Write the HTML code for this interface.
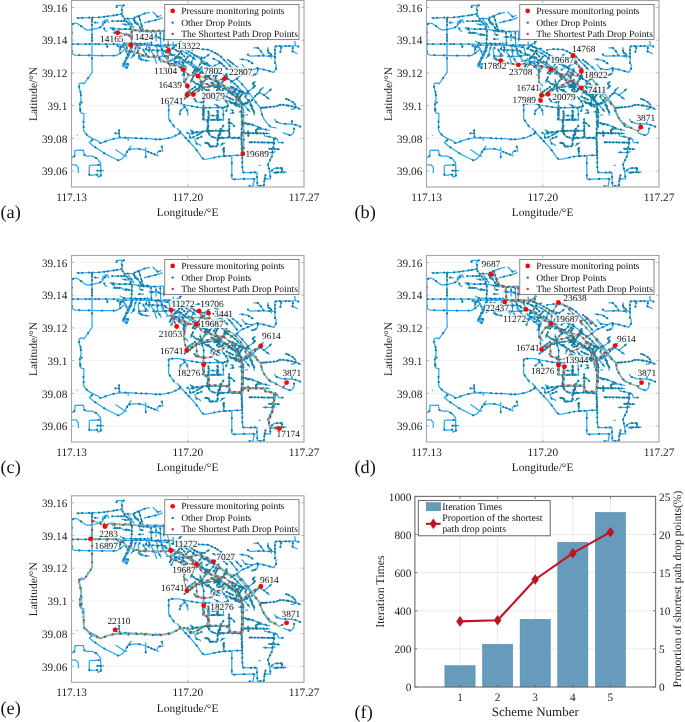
<!DOCTYPE html><html><head><meta charset="utf-8"><title>Figure</title><style>html,body{margin:0;padding:0;background:#fff}svg{display:block}</style></head><body><svg width="685" height="722" viewBox="0 0 685 722" text-rendering="geometricPrecision"><rect width="685" height="722" fill="#fff"/><defs><g id="net" fill="none" stroke-linejoin="round"><path d="M76.4 17.5 78.2 18.1 82.8 17.8 92.2 17.5 99.2 17.3 105 16.7 110.9 15.8 121.4 14.2M121.4 14.2 122.6 11.7 121.4 8.8 122 6.8 124 5.3 116.5 5.3 116.7 7.6M92 17.5 92 64M71.8 25.1 72.9 23.9 75.3 23 77.6 23.7 81.7 26.6 85.2 29.2 87.5 30.1 93.4 29.2 99.2 27.8 102.1 26.3 103.9 23.4 105.6 21.6 107.4 20.8 109.1 22.8M102.1 25.1 102.7 22.2 105 20.1 108.5 19.9M112 21 124.9 21M93.9 22.4 98.6 22.8M103.9 27.4 105 30.6 107.4 31.3M109.7 27.8 114.4 30.1 115 31.8M112.6 32.9 122 32.9M121.4 29 130.7 29.2M124.9 33.9 130.7 35.3M71.8 25.1 71.8 51.4 72.6 53.7 74.7 55.1 99.2 55.6 116.1 55.6 120.2 53.1 124.9 49.6M71.8 44.1 120.2 44.1M106.4 43.2 107.6 46.1 106.8 47.9M121.4 14.2 123.7 17.5 126.1 21 128.4 23.4 130.7 26.9 131.9 30.4M124.9 18.7 133.1 18.5 138.9 15.8 144.7 13.4 150 12.3M128.4 19.9 130.7 23.4 134.2 28M138.9 15.8 140.1 19.9 143 30.4M131.9 30.4 131.9 39.7M140.1 30.4 150 30.6M139.5 34.5 143 34.5M138.9 39.1 142.4 39.1M120.2 44.1 120.2 46.7 124.3 47.9 126.1 50.2M120.2 40.9 123.7 43.2 150 43.8M130.7 46.7 129.6 51.4 126.1 58.4 123.7 64M135.4 53.7 130.7 58.4M138.9 46.7 140.1 49.1M137.7 58.4 144.7 60.1M147.1 45.5 145.9 49.1 150 52.6M133.1 18.7 135.4 23.4 137.7 25.1M121.4 23.9 128.4 25.1M247.5 54.3 249.9 56.1 256.9 55.8 263.9 55.8 270.9 56.1 275 55.8M253.4 47.9 258 47.9 261.5 52 263.9 55.8M268 47.3 268 52.6 270.9 53.7 271.5 58.4M275 64 275 46.7 276.7 46.1 290.7 46.1 295.4 45.5 298.9 46.7M280.2 52.6 281.4 46.7M293.1 46.1 292.5 51.4 297.7 53.7M294.8 40.9 295.4 46.1M239.3 59 247.5 60.1 253.4 64M92 64 92.2 72.2 88.1 78 84 83.9 82.3 82.9 79.3 83.6 78.8 86.8 80.5 92 81.1 99 79.9 103.7 79.9 110.1 81.1 113.1 84 113.6 83.4 128M122 65.8 124.9 64 128.4 65.2 126.6 68.1 122 65.8M175.1 128 168.7 118.9 168.7 104.3 170.4 103.7 179.2 103.7 183.9 104.9 190.9 106 196.7 107.2 203.7 107.8 223 107.4 223.6 120.1 208.4 119.8 208.4 128M208.4 110.7 208.4 119.8M203.7 107.8 203.7 120.1M209.6 115.4 217.7 116 218.3 110.7M217.7 110.7 218.3 118.9M179.8 114.2 180.4 110.7 185 106.6 187.4 110.7 188 115.4M235.8 78 241.7 83.9 248.7 92 253.4 99 256.9 103.7 260.4 107.8 261.5 113.1 263.9 118.9 267.4 123.6 270.9 127.1 276.7 128M260.4 107.8 268.5 107.2 276.7 106.3 279.1 104.9 283.7 104.9 290.7 106 295.4 107.2 301.2 109.5M284.9 98.5 288.4 99.6 293.6 102.5 296 106 293.6 109 290.7 109M241.7 104.3 246.4 103.7 251 101.4 255.7 95.5 259.2 92.6 260.9 89.1 263.9 87.4M259.2 92.6 263.9 94.9 269.7 99.6M265 94.4 267.4 92.6 272 88.5M252.2 83.9 255.1 81.5 252.8 84.4 255.1 86.2 251.6 89.1 246.4 92.6 245.2 97.3 249.3 101.4 251 103.7 253.4 110.7 254.5 115.4M241.7 64 245.2 68.7 252.2 69.8 257.4 68.1 265 69.8 273.8 72.4 276.1 68.7 276.1 64M251 75.7 256.9 73.9 258 68.7M230 82.7 237 78.6 241.7 74.5 251 71M230 86.2 234.7 90.9 238.2 96.7 241.7 104.3 243.4 110.7 243.1 122.4 243.1 128M274.4 118.9 276.1 121.8 281.4 123.6 290.7 124.1 295.4 124.7 301.2 127.1M291.9 120.1 291.9 124.1M242.8 122.4 248.7 124.7 253.4 124.1M238.2 111.9 242.8 111.9M245.2 114.8 248.1 114.8M230 102.5 235.8 104.9 241.7 104.3M83.4 128 84 131.5 87.5 135.6 93.4 139.1 89.3 142.6 93.4 146.1 103.9 153.1 112 157.2 118.5 160.5 122 158.9 124.9 155.4 128.4 149.6 131.3 145.5M93.4 139.1 97.4 140.6 100.6 143.4 107.4 140.6 115 138.5 120.2 137.9 128.4 137.6 137.7 138.3 150 138.7M115 133.3 119.1 133.6 119.1 130.3 119.6 137.9M127.8 137.9 128.4 140.8M115.5 149.6 124.9 156 127.2 156M128.4 149.6 133.1 148.8 138.9 148.8 144.7 150.2 150 152.5M145.7 147.3 145.7 158.4M71.8 157.8 74.7 156 74.9 150.4 83.4 150.2 84.2 154.9 86.4 156 92.2 156 96.9 158.4 100.4 162.5 100.9 166.5M71.8 164.8 75.8 164.8 78.2 167.1 78.4 173M89.3 165.4 100.6 164.8 100.9 175.9 98 177.1 97.4 174.7 89.3 175.3 89.3 165.4M96.3 170.6 103.9 170.6M76.8 135.5 77.7 135M150 138.7 155.8 139.4 161.7 139.4 171 137.6 176.9 135 180.9 132.7M176.9 128 180.9 132.7 187.4 139.7 194.4 147.3 197.9 151.9 201.4 157.2 204.3 159.5 209.6 158.6 216.6 157 223.6 156 230 155.8M150 152.5 157 155.4 158.8 156M157 154.3 158.2 151.4 162.8 150.8 161.7 146.1M186.8 132.7 189.1 133.3 190.3 138.5 194.4 136.8 200.2 133.3 204.9 130.9 208.4 130.9 230 130.9M190.3 129.8 193.8 134.4M194.4 139.7 202 136.4M195 140.3 196.7 143.8 199.6 144.4 200.8 146.1M207.8 128 207.8 131.5 210.7 136.2 215.4 137.9 220.1 138.5 230 137.3M206.1 143.2 209 143.2 209.6 146.5 215.4 146.5 217.7 146.1 217.5 139.7 220.1 135 220.7 128M220.1 146.1 223 143.2 225.3 143.2M223.3 147.9 223.6 155.4M241.7 128 241.7 138.5 242.3 151.4 242.3 165.4 242.8 172.4 249.9 172.6 256.9 172.4 257.1 179.4 257.4 185.8 263.9 185.8 264.5 179.4 265.6 174.7M241.7 133.3 248.7 133.3 255.7 133.3 263.9 133.3 265 136.2 270.3 136.8 273.8 137.9 274.1 143.2 272.6 151.4 272 156 269.7 160.7 268 164.2 269.7 172.4 270.6 178.8 265 178.8M273.8 137.9 277.3 139.1 278.5 142.6 283.1 142.6M248.7 142.2 274.4 142.6M269.1 148.8 280.2 149.3M262.7 152.3 273.8 152.5 275.5 151.4M269.7 172.4 274.4 168.3 282.6 167.9 281.4 172.1 273.2 172.6 286.6 172.1M230 156 233.5 155.4 241.7 155.1M231.8 156 231.8 178.2 232.9 179.4 245.2 178.8 255.1 178.8 253.4 182.9 253.4 185.8 248.7 186.2M255.7 133.3 256.3 129.2 265 129.2M282.6 132.7 290.7 135.6 293.6 132.7 294.2 128M258.6 165.1 260.6 165.6M230 137.9 241.7 138.3M248.1 130.3 248.5 136.8M202.8 106.6 203.1 120 222.7 119.4M208.7 111.9 208.7 120M217.4 110.7 217.1 119.4M207.5 120 207.5 130.5 209.3 135.2 213.4 137.5M190 134 197 132.3 204 131.1 219.2 130.5 229.1 130.5M229.1 118.9 229.5 137.5M218 137.5 229.1 137.3 241.4 137.8M241.4 109.5 242 122.4 241.4 138.7 242 156M234.4 94.3 236.7 99 236.1 106 240.2 106.6 244.9 103.7 249.6 100.2M229.7 102.5 232 103.7M230.3 109.5 233.2 110.7M229.7 113.6 234.4 112.4M228.5 122.9 232 123.5 234.4 126.5M241.4 122.4 248.4 123.5 255.4 125.9 262.4 128.8 270 130.5M243.1 132.9 270 133.5M249.6 102.5 251.9 108.4 254.2 111.9 254 115.4M205.2 142.8 208.7 143.4 209.3 146.3 216.9 146.3M223.9 146.9 223.9 156M223.9 124.7 220.4 130.5 218 136.4 217.4 144.6 216.9 146.9M190 129.4 193.5 132.3 197 132.3M241.4 103.7 242 109.5M247.8 130.5 248.4 137M256 129.4 256 134.6M133.4 19.3 136.9 22.8 139.2 26.4 141.5 29.9 143.9 31.6M152.6 11.8 157.9 17 161.4 15.3M143.9 22.8 150.9 21.1 156.7 19.9 162.6 17.6M110 27.5 114.7 28.7 121.7 29.3 130.4 28.9M130.4 28.9 143.9 31.6 150.9 31.6 163.7 31M131.6 29.9 131.6 43.9 131 48.5M150.9 31.6 151.5 45M160.2 31.6 160.8 45M163.7 31 163.7 41.5M156.1 31.6 156.1 41.5M139.8 31.6 139.8 34.5 143.9 35.1M121.7 45 145 45 168.4 45 176.6 45M138 39.2 143.9 39.2M121.7 43.9 125.2 48.5 127.5 54.4 126.4 60.2 122.8 63.7 127.5 67.2 128.7 64.3 124.6 62.6M133.4 43.9 131 50.9 127.5 59.1M136.9 43.9 133.4 54.4 132.2 56.7M138 48.5 139.2 56.7 141.5 60.2 149.7 60.8M139.2 56.1 148.5 56.1M147.4 42.1 149.7 48.5 154.4 56.7 156.7 63.7M149.7 45 159.1 46.2 168.4 47.4M156.7 45 157.9 56.7 161.4 62.6M160.2 45 164.9 56.7 168.4 61.4M168.4 45 170.7 55M173.1 41.5 173.6 48.5M180.1 40.9 179.8 45M142.7 48.5 145 53.2 148.5 56.1M121.7 33.4 125.2 35.1 128.7 34.5M117 45 120.5 48.5 119.3 52M148.5 36.9 159.1 37.4M145 49.7 159.1 50.3 166.1 50.9M152 56.7 166.1 56.1 175.4 54.4M161.4 47.4 162.6 56.1M173.1 48.5 180.1 52 184.7 56.7M175.4 45 182.4 48.5 187.1 48.5M166.1 61.4 173.1 60.2 180.1 56.7M170.7 64.9 177.7 61.4 183.6 62.6M165 52 180 58 195 68 210 78 225 88 240 100 250 112M176 46 190 52 205 62 220 72 235 84 247 96M192 50 199 49 208.5 49.6 216.7 53.7 221.4 57 226 62 230.7 66.5 238 76M183.9 99 189.7 95 196.7 89 202.5 85M185 94.4 188.5 91.4 196 86.2M194.4 99 196.7 102 202.5 102.5M196.7 89.7 205 87.4 213 86.2 220 82.7M200 79 201.4 87.4 203.7 94.4 203.5 107.8M208.4 89.7 212 94.4 210.7 99M216.6 92 221.2 91.4M215 99 220 100.5M184 66 184 82 188 86M172 58 178 66 186 72M224 88 232 95 240 94M226 100 236 104M198.4 69.8 203.5 73 208.4 77.1M202.8 72.1 205.8 74 208.7 74.9M215.4 80.3 217.3 81.8 220.4 84.1M214.8 79.6 216.2 76 218.3 72.9M213.4 88.1 216.6 86.1 218.9 83.5M222.4 91.8 222.9 89.1 224.6 87M240.3 90.6 241.9 93.1 243.7 94.3M199.5 74.5 201 71 202.9 68.9M214.5 96 218.1 96.9 220.9 98.8M181.1 66.8 184.5 61.3 188.2 56.1M172.2 49.2 176.4 44.6 182 40.9M203.9 88.9 209.9 91.8 215.2 95.2M190.5 83.1 191.6 80.2 193 76.9M234.6 104.1 236.2 100.4 238.9 95.6M181.7 75.8 184.8 71.5 186.6 66.1M169 68 170.8 65.3 171.8 62.9M226.4 88.5 228.6 90.5 231.9 93.4M216 80.1 218.2 81.6 219.7 84.2M193.1 81.2 195.1 83 198.1 85.2M238.4 102.2 240.1 96.7 243 92.7M224.7 79.6 226.5 77.2 227.7 75.4M173.8 59.2 177.8 55.6 181.2 51.2M195 71 198.8 66.5 201.7 60.9M171.4 48.2 174.5 49.3 178.7 51.4M232.4 94.2 234.8 91.5 237.4 87.8M203.8 76.2 207.9 77.1 210.7 79M210.9 82.5 216.6 85.1 221.9 87.8M211.2 82.1 215.3 85.9 220.4 90M225.5 95.9 229.9 98.5 234.3 100.1M223.7 76.2 226.4 77.8 229.7 80.3M194.3 74.4 198.2 70.5 201.7 67.2M187.8 61.2 192.4 64 196.6 66.6M179.1 62.3 179.8 59.4 181.5 57.7M171.4 69.9 173.2 65.6 176.3 62.1M190.1 65.7 191.9 61 194.4 55.6M216.8 90.4 219.9 86.8 222.1 82.1M201.8 62.8 205.9 63.9 209 66.5M212.7 77.3 216.2 72.3 219.2 68M229.6 86 234.8 88.4 240.4 91.9M209.8 75.5 212.3 72.3 215.2 70.3M192.2 74 194.3 70.7 195.5 67.6M176 61.8 181.1 64.6 186.1 66.7M223.3 81.3 224.7 77.3 226.9 73.2M226.8 94.1 228.8 92.2 231.5 89.9M206.5 79.4 208.6 76 210.4 74M202 84.4 205.6 79.2 208.7 75.1M204.1 63.7 209.1 66.2 214.1 69.2M198.1 84.1 202 86.8 205.4 88.2M232 96 240 92 250 94M222 96 228 104 226 112M214 104 222 108 228 106M206 70 214 66 222 62M212 58 220 62 228 70M228 60 236 66 242 72M196 56 204 58 210 54M180 50 188 54 196 60" stroke="#2aa6fa" stroke-width="1.25"/><path d="M78.3 18.1h0M82.2 17.8h0M89.2 17.6h0M92.7 17.5h0M99 17.3h0M104.2 16.8h0M107.6 16.3h0M113.6 15.4h0M116.9 14.9h0M121.6 13.8h0M121.9 10.2h0M123.8 5.3h0M116.6 6.9h0M73.1 23.9h0M81.1 26.2h0M91.6 29.5h0M100.1 27.3h0M105 22.3h0M112.2 21h0M117.9 21h0M121.3 21h0M124 21h0M95.2 22.5h0M104.3 28.6h0M112.8 29.3h0M114.9 32.9h0M117.3 32.9h0M119.6 32.9h0M125.1 29.1h0M130.1 29.2h0M126.5 34.3h0M129.1 34.9h0M71.8 32.6h0M71.8 43.9h0M71.8 51h0M79.4 55.2h0M89.1 55.4h0M102.1 55.6h0M113.7 55.6h0M120.4 53h0M72.5 44.1h0M78 44.1h0M85.7 44.1h0M89.6 44.1h0M95.7 44.1h0M98.9 44.1h0M106 44.1h0M113.7 44.1h0M107.4 46.6h0M122.6 16h0M124.6 18.8h0M126.5 21.5h0M128.5 23.6h0M130.8 27h0M127.8 18.6h0M134.7 17.7h0M137.8 16.3h0M144.5 13.5h0M131.4 24.2h0M139.2 16.8h0M140.1 20h0M141.3 24.3h0M141.8 26.2h0M142.8 29.7h0M131.9 31.3h0M131.9 35.8h0M141.1 30.4h0M147.2 30.5h0M139.4 39.1h0M121 46.9h0M123.9 43.2h0M131.1 43.4h0M135.3 43.5h0M140.1 43.6h0M144.7 43.7h0M129.4 51.6h0M127.9 54.7h0M126.3 58h0M124.8 61.5h0M133.6 55.5h0M139.6 48.1h0M141 59.2h0M146 48.8h0M134.9 22.4h0M125.1 24.6h0M247.9 54.6h0M258.7 55.8h0M269.1 56h0M257.7 47.9h0M260.9 51.3h0M263.6 55.3h0M268 50.7h0M269.1 53h0M271 54.8h0M275 62.9h0M275 57.2h0M275 53.5h0M275 50.1h0M275.9 46.4h0M279.9 46.1h0M285.7 46.1h0M289.3 46.1h0M298.4 46.5h0M280.4 51.8h0M281.2 47.8h0M292.8 48.1h0M292.5 51.4h0M242.5 59.4h0M248.8 61h0M252.1 63.2h0M173.5 125.7h0M169.9 120.7h0M168.7 110.3h0M168.7 104.9h0M172.2 103.7h0M183.8 104.9h0M192 106.3h0M197.1 107.2h0M205.6 107.8h0M209.8 107.7h0M218.2 107.5h0M223.3 114.6h0M218 120h0M208.4 119.9h0M208.4 126.1h0M208.4 111.4h0M208.4 116.8h0M203.7 109.4h0M203.7 111.2h0M203.7 112.7h0M203.7 115.4h0M203.7 118.6h0M212.9 115.6h0M217.8 115.2h0M217.8 111.7h0M218.1 115.9h0M179.8 114h0M180.5 110.6h0M184.5 107.1h0M187.2 110.4h0M242.2 84.4h0M248 91.2h0M255.8 102.3h0M262.1 114.5h0M269.6 125.8h0M261 107.8h0M263 107.6h0M265 107.5h0M266.9 107.3h0M270.1 107h0M274 106.6h0M277.5 105.8h0M280 104.9h0M283.3 104.9h0M286.9 105.4h0M288.5 105.7h0M291.7 106.3h0M295.5 107.2h0M298.8 108.6h0M286.5 99h0M288.7 99.8h0M292.6 102h0M294.6 104h0M294.7 107.7h0M243.3 104.1h0M247 103.4h0M252 100.1h0M255.2 96.1h0M257.3 94.2h0M259.3 92.5h0M260.5 90h0M264 95.1h0M267.4 97.8h0M270.2 90.2h0M253.5 82.8h0M253.2 84h0M254.7 85.9h0M253.5 87.5h0M247.7 91.7h0M245.4 96.5h0M248.2 100.3h0M251.8 106.1h0M253.3 110.5h0M246 68.8h0M251.7 69.8h0M257.5 68.1h0M263.8 69.5h0M269.5 71.2h0M276.1 68.7h0M252.7 75.2h0M255.2 74.4h0M257.8 69.8h0M232.1 81.4h0M237.2 78.5h0M243.2 74h0M247.8 72.2h0M231.5 87.7h0M234.6 90.7h0M236.8 94.4h0M237.9 96.3h0M239.6 99.8h0M240.8 102.4h0M241.7 104.4h0M243.1 109.6h0M243.4 112.4h0M243.3 116.5h0M243.1 121.6h0M243.1 126.1h0M276.9 122.1h0M285.2 123.8h0M295.5 124.8h0M300.1 126.6h0M291.9 121.4h0M247.7 124.3h0M241.2 111.9h0M231.4 103.1h0M235.1 104.6h0M238.5 104.6h0M86.6 134.5h0M91.8 140.4h0M95.4 147.4h0M104.2 153.3h0M118.1 160.3h0M127 151.9h0M99.9 142.8h0M105.4 141.4h0M113.6 138.9h0M125.2 137.7h0M136 138.1h0M141.2 138.4h0M146.2 138.6h0M115.4 133.3h0M119.1 133.3h0M119.1 130.4h0M119.5 136.7h0M129.6 149.4h0M139.4 148.9h0M148.3 151.8h0M145.7 156.8h0M74.3 156.3h0M84.5 155h0M95.9 157.9h0M98.6 164.9h0M100.9 175.4h0M97.2 174.7h0M89.3 174.5h0M97.7 170.6h0M100.6 170.6h0M155.8 139.4h0M160 139.4h0M168.4 138.1h0M175.6 135.6h0M179.3 133.6h0M180.2 131.8h0M185.7 137.9h0M188.8 141.2h0M196.7 150.3h0M203 158.5h0M214.4 157.5h0M219.2 156.6h0M225.3 156h0M229.7 155.8h0M151.3 153.1h0M154.5 154.4h0M159.9 151.1h0M161.8 146.7h0M187.4 132.8h0M190 137.3h0M193.3 137.2h0M197.7 134.8h0M199.8 133.5h0M201.9 132.4h0M206.6 130.9h0M210.4 130.9h0M212.8 130.9h0M218.9 130.9h0M223.6 130.9h0M229.1 130.9h0M192.4 132.6h0M197.7 138.2h0M201.4 136.7h0M196.6 143.6h0M207.8 129.8h0M209.2 133.7h0M214.5 137.6h0M219.3 138.4h0M223.4 138.1h0M227.9 137.6h0M206.9 143.2h0M209.2 144.5h0M211 146.5h0M216.2 146.3h0M217.7 144.3h0M217.5 140.1h0M218.7 137.6h0M220.1 134.4h0M220.3 132.2h0M220.6 129.1h0M222.3 143.9h0M223.4 149.4h0M241.7 132.6h0M241.7 135.6h0M241.8 142h0M242 146.6h0M242.3 151.4h0M242.3 158h0M242.3 162.4h0M242.4 167.3h0M243.6 172.4h0M250.8 172.6h0M254.9 172.4h0M257 177h0M257.3 182.9h0M260.1 185.8h0M263.9 185.2h0M264.3 181h0M264.7 178.3h0M265.5 175.4h0M245.7 133.3h0M249.8 133.3h0M253.3 133.3h0M256.5 133.3h0M263.7 133.3h0M269.1 136.6h0M273.9 139.4h0M274.1 143.6h0M273.3 147.5h0M272.6 151.8h0M271.7 156.8h0M270.1 160h0M268 164.6h0M268.9 168.6h0M270.3 176.4h0M265.1 178.8h0M275.4 138.4h0M282.6 142.6h0M249.9 142.3h0M251.7 142.3h0M254.8 142.3h0M258.2 142.4h0M261.7 142.4h0M264.1 142.5h0M267.7 142.5h0M269.4 142.5h0M272.1 142.6h0M274.2 142.6h0M269.3 148.8h0M271.5 148.9h0M274.9 149h0M277.9 149.2h0M265.6 152.4h0M272.3 152.5h0M272 170.4h0M277 168.2h0M280.7 168h0M282.1 169.5h0M277.9 172.3h0M275.2 172.5h0M276.4 172.5h0M281.2 172.3h0M283.5 172.3h0M237.2 155.3h0M231.8 163h0M231.8 175.4h0M234.5 179.3h0M244.1 178.9h0M253.6 178.8h0M249.6 186.1h0M257.7 129.2h0M289.4 135.1h0M294.1 128.7h0M232.5 138h0M238.2 138.2h0M248.2 132.3h0M248.4 135.5h0M202.9 109.1h0M203 114.2h0M203.1 119.2h0M207.5 119.9h0M212 119.8h0M214.2 119.7h0M220 119.5h0M208.7 113.7h0M208.7 117.5h0M217.4 110.9h0M217.3 115.4h0M217.1 118.2h0M207.5 121.5h0M207.5 128.2h0M208 131.9h0M212.1 136.8h0M192.6 133.4h0M197.3 132.2h0M202.6 131.4h0M209 130.9h0M215.9 130.7h0M222 130.5h0M228.3 130.5h0M229.1 119.4h0M229.2 122h0M229.3 126.4h0M229.3 129.2h0M229.4 132.9h0M229.4 134.7h0M229.5 136.7h0M221.7 137.5h0M228.2 137.3h0M234.6 137.5h0M238.9 137.7h0M241.5 111.1h0M241.6 114.5h0M241.7 116.7h0M241.9 121.6h0M241.9 124h0M241.7 129.2h0M241.5 134.2h0M241.5 136h0M241.4 139.4h0M241.6 144h0M241.7 149.1h0M241.9 152.4h0M241.9 155.1h0M235.9 97.3h0M236.7 99.6h0M236.4 103.4h0M236.2 105.6h0M239.3 106.5h0M243.7 104.4h0M245.5 103.2h0M249.2 100.4h0M232.7 110.5h0M232.9 112.8h0M228.6 123h0M230.9 123.3h0M234.1 126.1h0M242.7 122.6h0M245.6 123.1h0M249.2 123.8h0M252.7 125h0M258.3 127.1h0M260.4 128h0M265.8 129.6h0M243.6 132.9h0M248.5 133h0M252.8 133.1h0M257.7 133.2h0M260.5 133.3h0M263.5 133.3h0M266.6 133.4h0M250.5 105h0M252 108.5h0M254.2 112h0M205.4 142.8h0M207.5 143.2h0M210 146.3h0M212.8 146.3h0M223.9 148h0M223.9 151.4h0M223.9 156h0M223.2 125.9h0M220.4 130.4h0M218.5 135.1h0M217.8 139.7h0M217.5 143.9h0M192.6 131.6h0M196.2 132.3h0M241.4 103.9h0M241.8 108.1h0M248 133.2h0M256 130.4h0M256 132.3h0M133.9 19.9h0M137.6 23.9h0M140.2 27.9h0M143.3 31.2h0M157.4 16.5h0M149 21.6h0M155.4 20.2h0M113.5 28.4h0M119.6 29.1h0M125.6 29.1h0M138.6 30.6h0M147.6 31.6h0M154.2 31.5h0M131.6 39h0M131.1 47.7h0M150.9 32.9h0M151.1 37h0M151.4 42.8h0M160.3 33.3h0M160.5 38.5h0M163.7 39.2h0M156.1 35.4h0M141.7 34.8h0M125.6 45h0M132 45h0M140.9 45h0M157.8 45h0M165 45h0M176.5 45h0M122.9 45.5h0M126.4 51.5h0M126.8 58.1h0M123.8 64.4h0M127.9 64h0M131.2 50.4h0M136.8 44h0M135.4 48.1h0M139.2 56.7h0M146.2 60.6h0M139.2 56.1h0M145.3 56.1h0M149.3 47.5h0M153.8 55.6h0M151.4 45.2h0M155.6 45.8h0M160 46.3h0M167 47.2h0M157.4 51.5h0M159.5 59.4h0M162.2 49.9h0M164.6 56h0M168.5 45.3h0M170.5 53.9h0M143.6 50.4h0M146 54h0M126.4 34.9h0M117.6 45.7h0M120.3 49.1h0M152.5 37.1h0M158.7 37.4h0M149.2 49.9h0M152.7 50h0M158.2 50.3h0M164.8 50.8h0M156.5 56.5h0M166 56.1h0M172.6 54.9h0M161.6 49.1h0M177.4 50.7h0M181.9 53.9h0M184.4 56.4h0M179.6 47.1h0M185.6 48.5h0M170.6 60.6h0M179.6 57h0M170.9 64.8h0M176.1 62.2h0M182.2 62.3h0M166 52.4h0M172.5 55h0M178.7 57.5h0M183.4 60.2h0M186.5 62.4h0M193.1 66.8h0M196.8 69.2h0M202.7 73.1h0M206 75.3h0M209.2 77.5h0M214.9 81.3h0M218.5 83.6h0M225 88h0M229.2 91.4h0M232.1 93.7h0M235.1 96.1h0M239 99.2h0M243.2 103.9h0M248.2 109.9h0M178 46.8h0M181.5 48.4h0M188.8 51.5h0M191.8 53.2h0M194.3 54.9h0M196.8 56.5h0M200.8 59.2h0M207.1 63.4h0M213.3 67.5h0M218.9 71.2h0M225.2 76.2h0M231.3 81h0M234.8 83.8h0M237.4 86.4h0M242.9 91.9h0M192.2 50h0M198.4 49.1h0M203.1 49.3h0M207.8 49.6h0M211.9 51.3h0M215.2 52.9h0M217.5 54.3h0M221 56.7h0M224.1 60h0M229.7 65.5h0M231.9 68.1h0M236.7 74.3h0M184.6 98.5h0M187.4 96.6h0M190.1 94.7h0M191.9 93.1h0M192.9 92.2h0M194.8 90.6h0M196.5 89.2h0M199.4 87.1h0M200.8 86.2h0M186.7 92.9h0M187.7 92.1h0M189.6 90.7h0M192.3 88.8h0M194.9 87h0M194.5 99.1h0M195.9 101h0M201.4 102.4h0M199.2 89h0M203.9 87.7h0M206.8 87.1h0M209.5 86.7h0M214.4 85.5h0M217.9 83.8h0M200.5 82h0M201.1 85.4h0M201.8 88.5h0M202.4 90.5h0M203.7 95.6h0M203.6 101.6h0M203.5 106.3h0M208.5 89.8h0M210.3 92.2h0M211.6 95.7h0M219 91.7h0M221.2 91.4h0M216.7 99.5h0M184 71h0M184 74.7h0M184 81.7h0M174.7 61.6h0M179.1 66.8h0M183.8 70.4h0M225.3 89.1h0M228.8 92.2h0M234.7 94.7h0M237.8 94.3h0M229.8 101.5h0M233.5 103h0M198.5 69.9h0M202.2 72.2h0M205 74.3h0M207 74.4h0M216 80.8h0M217.3 81.8h0M218.6 82.8h0M215.4 78.2h0M216 76.4h0M216.8 75h0M217.9 73.4h0M215 87.1h0M217.7 84.9h0M222.7 90.4h0M222.9 89.1h0M241 91.6h0M200.1 73.1h0M215.3 96.2h0M218.3 97.1h0M181.3 66.5h0M183.4 63.2h0M185 60.6h0M186.3 58.8h0M187.8 56.7h0M173.6 47.6h0M175.7 45.3h0M180.1 42.1h0M206.4 90.1h0M207.9 90.8h0M210.3 92.1h0M213.5 94.1h0M191.4 80.7h0M192 79.3h0M192.9 77.3h0M234.9 103.4h0M237.6 97.9h0M183.9 72.6h0M185.5 69.4h0M170 66.4h0M171.5 63.6h0M229.3 91.2h0M231.3 92.9h0M218.2 81.5h0M219.7 84.1h0M193.5 81.6h0M195.8 83.5h0M238.9 100.5h0M239.8 97.5h0M240.8 95.7h0M241.6 94.6h0M243 92.7h0M224.9 79.3h0M226 77.9h0M226.8 76.7h0M175 58.1h0M176.1 57.1h0M177.4 56h0M179 54h0M180.8 51.7h0M195.2 70.7h0M197 68.6h0M199.8 64.5h0M201.6 61.1h0M172.2 48.5h0M176 50h0M178 51.1h0M232.9 93.6h0M234.2 92.2h0M235.9 89.9h0M205.2 76.5h0M208.1 77.2h0M211.5 82.7h0M212.7 83.3h0M216.3 85h0M218.6 86.1h0M212 82.8h0M214.8 85.5h0M216.9 87.2h0M218.4 88.3h0M219.5 89.2h0M226.7 96.6h0M229.3 98.1h0M230.4 98.6h0M232.6 99.5h0M225.5 77.3h0M227.7 78.9h0M195.1 73.7h0M197.2 71.5h0M198.1 70.6h0M199.6 69.2h0M201.6 67.3h0M188.7 61.7h0M191.6 63.5h0M181.4 57.8h0M171.5 69.7h0M174.2 64.5h0M191.5 62.2h0M193.3 57.9h0M217 90.2h0M218.7 88.1h0M219.7 87h0M220.6 85.3h0M221.8 82.7h0M202.5 63h0M205.4 63.8h0M208.4 66h0M213.9 75.6h0M215.8 72.8h0M218.1 69.6h0M231.9 87h0M233.2 87.6h0M235.9 89h0M238.8 90.9h0M240.1 91.7h0M210.1 75.1h0M213.1 71.7h0M192.9 72.9h0M193.8 71.5h0M194.7 69.8h0M195.5 67.6h0M179.1 63.5h0M183.7 65.7h0M223.3 81.3h0M224.4 78.3h0M225.5 75.8h0M226.5 74h0M229.2 91.9h0M206.7 79h0M207.8 77.3h0M208.5 76.2h0M209.3 75.2h0M202.3 84.1h0M204.5 80.8h0M207 77.4h0M208.3 75.6h0M204.4 63.9h0M209 66.2h0M213.7 68.9h0M198.1 84.2h0M199.9 85.4h0M201.4 86.4h0M204.2 87.7h0M234.7 94.7h0M239.4 92.3h0M243.5 92.7h0M248 93.6h0M224.1 98.7h0M226.1 101.5h0M227.5 105.9h0M226.3 110.8h0M217 105.5h0M222.4 107.9h0M224.6 107.1h0M228 106h0M206.6 69.7h0M211.8 67.1h0M214.8 65.6h0M219.7 63.2h0M213.9 58.9h0M219.2 61.6h0M221.5 63.5h0M223.8 65.8h0M226.7 68.7h0M228.1 60.1h0M230.4 61.8h0M232.6 63.5h0M237.3 67.3h0M240.8 70.8h0M196.7 56.2h0M201.9 57.5h0M204.4 57.8h0M208 55.4h0M181.4 50.7h0M186.5 53.3h0M190.2 55.7h0M193.8 58.4h0M92 21.6h0M92 25.1h0M92 34.5h0M92 37.4h0M92 40.3h0M92 58.4h0M92 19.3h0M88.1 78h0M79.1 86.8h0M80.5 92h0M80.9 94.9h0M81.7 102.5h0M79.9 104.3h0M80.3 109h0M80.3 110.7h0M83.4 121.8h0M83.8 127.1h0M126.6 68.1h0" stroke="#1c7c8c" stroke-width="2.25" stroke-linecap="round"/></g><clipPath id="clipa"><rect x="71.5" y="0.5" width="232.5" height="186.5"/></clipPath><clipPath id="clipb"><rect x="426.5" y="0.5" width="232.5" height="186.5"/></clipPath><clipPath id="clipc"><rect x="71.5" y="255.5" width="232.5" height="186.5"/></clipPath><clipPath id="clipd"><rect x="426.5" y="255.5" width="232.5" height="186.5"/></clipPath><clipPath id="clipe"><rect x="71.5" y="495.8" width="232.5" height="186.5"/></clipPath></defs><g><path d="M71.5 7.5H304M71.5 40.2H304M71.5 72.9H304M71.5 105.6H304M71.5 138.3H304M71.5 171H304M187.8 0.5V187" stroke="#efefef" stroke-width="0.8" fill="none"/><g clip-path="url(#clipa)"><use href="#net" x="0" y="0"/><path d="M117.6 32.7 124 34.5 131.5 36.5M131.5 45 131.5 30.4 150 30.6 167.8 30.6 168.5 50.4M131.5 45 126.5 45.8 127.3 51.4 130.7 51.4 131.9 46.7M130.7 51.4 140 53.7 144.7 56 150 57.2 158 56.5 163 61 170 64.4 179.4 66.7 183 69.6M137.7 44.4 137.7 53.7M168.5 50.4 167.8 62 170 64.4M183 69.6 188.8 75 197.9 76 207.5 78.4 216.8 80.7 224.7 78.6M197.9 76 202.8 83 212 85.4 221.5 84.3 228.5 87.8 233.2 92.4 237.9 99.4M237.9 99.4 242.5 108.8 243.7 118 243.7 153.8M187.4 86 185.3 80.7 188.8 75M187.4 86 190 92.4 187 95M187 95 193.4 94.6 202.8 87.8 212 85.4" fill="none" stroke="#6fc8a0" stroke-width="1.4" stroke-linejoin="round"/><path d="M117.6 32.7 124 34.5 131.5 36.5M131.5 45 131.5 30.4 150 30.6 167.8 30.6 168.5 50.4M131.5 45 126.5 45.8 127.3 51.4 130.7 51.4 131.9 46.7M130.7 51.4 140 53.7 144.7 56 150 57.2 158 56.5 163 61 170 64.4 179.4 66.7 183 69.6M137.7 44.4 137.7 53.7M168.5 50.4 167.8 62 170 64.4M183 69.6 188.8 75 197.9 76 207.5 78.4 216.8 80.7 224.7 78.6M197.9 76 202.8 83 212 85.4 221.5 84.3 228.5 87.8 233.2 92.4 237.9 99.4M187.4 86 185.3 80.7 188.8 75M187.4 86 190 92.4 187 95M187 95 193.4 94.6 202.8 87.8 212 85.4" fill="none" stroke="#b8375a" stroke-width="1.8" stroke-dasharray="2.4 3.4" stroke-linejoin="round"/><path d="M237.9 99.4 242.5 108.8 243.7 118 243.7 153.8" fill="none" stroke="#b8375a" stroke-width="1.8" stroke-dasharray="2.1 6" stroke-linejoin="round"/></g><rect x="99.8" y="34.4" width="24.1" height="8.6" fill="#fff" fill-opacity="0.85"/><rect x="134.5" y="32.7" width="19.4" height="8.6" fill="#fff" fill-opacity="0.85"/><rect x="176.8" y="41.6" width="24.1" height="8.6" fill="#fff" fill-opacity="0.85"/><rect x="153.8" y="66.4" width="24.1" height="8.6" fill="#fff" fill-opacity="0.85"/><rect x="203.7" y="66.4" width="19.4" height="8.6" fill="#fff" fill-opacity="0.85"/><rect x="228.7" y="67.3" width="24.1" height="8.6" fill="#fff" fill-opacity="0.85"/><rect x="158.1" y="80.4" width="24.1" height="8.6" fill="#fff" fill-opacity="0.85"/><rect x="159.6" y="95.9" width="24.1" height="8.6" fill="#fff" fill-opacity="0.85"/><rect x="201.1" y="90.9" width="24.1" height="8.6" fill="#fff" fill-opacity="0.85"/><rect x="245.1" y="149.2" width="24.1" height="8.6" fill="#fff" fill-opacity="0.85"/><g font-family="Liberation Serif, serif" font-size="9.4" fill="#111"><text x="100.1" y="42">14165</text><text x="134.8" y="40.3">1424</text><text x="177.1" y="49.2">13322</text><text x="154.1" y="74">11304</text><text x="204" y="74">7802</text><text x="229" y="74.9">22807</text><text x="158.4" y="88">16439</text><text x="159.9" y="103.5">16741</text><text x="201.4" y="98.5">20079</text><text x="245.4" y="156.8">19689</text></g><circle cx="117.6" cy="32.7" r="2.4" fill="#f00"/><circle cx="130.7" cy="45" r="2.4" fill="#f00"/><circle cx="168.5" cy="50.4" r="2.4" fill="#f00"/><circle cx="183" cy="69.6" r="2.4" fill="#f00"/><circle cx="197.9" cy="76" r="2.4" fill="#f00"/><circle cx="224.7" cy="78.6" r="2.4" fill="#f00"/><circle cx="187.4" cy="86" r="2.4" fill="#f00"/><circle cx="187" cy="95" r="2.4" fill="#f00"/><circle cx="193.4" cy="94.6" r="2.4" fill="#f00"/><circle cx="242.8" cy="153.8" r="2.4" fill="#f00"/><rect x="164.8" y="4.4" width="134.2" height="35" fill="#fff" stroke="#555" stroke-width="0.7"/><circle cx="172.7" cy="10.9" r="2.3" fill="#f00"/><circle cx="172.7" cy="22.6" r="1.2" fill="#1c7c8c"/><circle cx="172.7" cy="33.9" r="1.2" fill="#b8375a"/><g font-family="Liberation Serif, serif" font-size="9.6" fill="#111"><text x="181.2" y="14.1">Pressure monitoring points</text><text x="181.2" y="25.8">Other Drop Points</text><text x="181.2" y="37.1">The Shortest Path Drop Points</text></g><path d="M71.5 7.5h2.4M304 7.5h-2.4M71.5 40.2h2.4M304 40.2h-2.4M71.5 72.9h2.4M304 72.9h-2.4M71.5 105.6h2.4M304 105.6h-2.4M71.5 138.3h2.4M304 138.3h-2.4M71.5 171h2.4M304 171h-2.4M187.8 187v-2.4M187.8 0.5v2.4" stroke="#999" stroke-width="0.7" fill="none"/><rect x="71.5" y="0.5" width="232.5" height="186.5" fill="none" stroke="#a4a4a4" stroke-width="1.1"/><g font-family="Liberation Serif, serif" font-size="11.3" fill="#1c1c1c"><text x="67.3" y="11.7" text-anchor="end">39.16</text><text x="67.3" y="44.4" text-anchor="end">39.14</text><text x="67.3" y="77.1" text-anchor="end">39.12</text><text x="67.3" y="109.8" text-anchor="end">39.1</text><text x="67.3" y="142.5" text-anchor="end">39.08</text><text x="67.3" y="175.2" text-anchor="end">39.06</text><text x="71.5" y="200.7" text-anchor="middle">117.13</text><text x="187.8" y="200.7" text-anchor="middle">117.20</text><text x="304" y="200.7" text-anchor="middle">117.27</text><text x="187.6" y="216.3" text-anchor="middle" font-size="11.4">Longitude/°E</text><text transform="translate(37.2 94) rotate(-90)" text-anchor="middle" font-size="11.4">Latitude/°N</text></g><text x="0.5" y="218.3" font-family="Liberation Serif, serif" font-size="18.3" fill="#111">(a)</text></g><g><path d="M426.5 7.5H659M426.5 40.2H659M426.5 72.9H659M426.5 105.6H659M426.5 138.3H659M426.5 171H659M542.8 0.5V187" stroke="#efefef" stroke-width="0.8" fill="none"/><g clip-path="url(#clipb)"><use href="#net" x="355" y="0"/><path d="M500.7 60.6 509 63.5 518.4 64.8 527 63 535 66 543 66 550.9 69.1M543 66 539 72 539 84 541.5 95.2 540.6 100.6M541.5 95.2 548.1 94.3 555 88 565 84 574 80 581.3 87.8 587 92M550.9 69.1 560 76 568 82 574 80M573.1 55.5 577 63 581.3 70.9 587 75 591.3 77.2M560 76 569 74 577 76 581.3 70.9M591.3 77.2 601.8 94.8 613.5 106.4 617 115.8 622.9 122.8 632.2 128.6 638 131 640.8 127.2M581.3 87.8 587 84 591.3 77.2" fill="none" stroke="#6fc8a0" stroke-width="1.4" stroke-linejoin="round"/><path d="M500.7 60.6 509 63.5 518.4 64.8 527 63 535 66 543 66 550.9 69.1M543 66 539 72 539 84 541.5 95.2 540.6 100.6M541.5 95.2 548.1 94.3 555 88 565 84 574 80 581.3 87.8 587 92M550.9 69.1 560 76 568 82 574 80M573.1 55.5 577 63 581.3 70.9 587 75 591.3 77.2M560 76 569 74 577 76 581.3 70.9M581.3 87.8 587 84 591.3 77.2" fill="none" stroke="#b8375a" stroke-width="1.8" stroke-dasharray="2.4 3.4" stroke-linejoin="round"/><path d="M591.3 77.2 601.8 94.8 613.5 106.4 617 115.8 622.9 122.8 632.2 128.6 638 131 640.8 127.2" fill="none" stroke="#b8375a" stroke-width="1.8" stroke-dasharray="2.1 6" stroke-linejoin="round"/></g><rect x="482.7" y="61.5" width="24.1" height="8.6" fill="#fff" fill-opacity="0.85"/><rect x="508.6" y="67.7" width="24.1" height="8.6" fill="#fff" fill-opacity="0.85"/><rect x="550.1" y="55.6" width="24.1" height="8.6" fill="#fff" fill-opacity="0.85"/><rect x="571.6" y="44.6" width="24.1" height="8.6" fill="#fff" fill-opacity="0.85"/><rect x="584" y="70.1" width="24.1" height="8.6" fill="#fff" fill-opacity="0.85"/><rect x="587.5" y="85.3" width="19.4" height="8.6" fill="#fff" fill-opacity="0.85"/><rect x="516.2" y="83" width="24.1" height="8.6" fill="#fff" fill-opacity="0.85"/><rect x="552" y="92.5" width="24.1" height="8.6" fill="#fff" fill-opacity="0.85"/><rect x="512.3" y="95.4" width="24.1" height="8.6" fill="#fff" fill-opacity="0.85"/><rect x="636.1" y="113.4" width="19.4" height="8.6" fill="#fff" fill-opacity="0.85"/><g font-family="Liberation Serif, serif" font-size="9.4" fill="#111"><text x="483" y="69.1">17892</text><text x="508.9" y="75.3">23708</text><text x="550.4" y="63.2">19687</text><text x="571.9" y="52.2">14768</text><text x="584.3" y="77.7">18922</text><text x="587.8" y="92.9">7411</text><text x="516.5" y="90.6">16741</text><text x="552.3" y="100.1">20079</text><text x="512.6" y="103">17989</text><text x="636.4" y="121">3871</text></g><circle cx="500.7" cy="60.6" r="2.4" fill="#f00"/><circle cx="518.4" cy="64.8" r="2.4" fill="#f00"/><circle cx="550.9" cy="69.1" r="2.4" fill="#f00"/><circle cx="573.1" cy="55.5" r="2.4" fill="#f00"/><circle cx="581.3" cy="70.9" r="2.4" fill="#f00"/><circle cx="581.3" cy="87.8" r="2.4" fill="#f00"/><circle cx="541.5" cy="95.2" r="2.4" fill="#f00"/><circle cx="548.1" cy="94.3" r="2.4" fill="#f00"/><circle cx="540.6" cy="100.6" r="2.4" fill="#f00"/><circle cx="640.8" cy="127.2" r="2.4" fill="#f00"/><rect x="519.8" y="4.4" width="134.2" height="35" fill="#fff" stroke="#555" stroke-width="0.7"/><circle cx="527.7" cy="10.9" r="2.3" fill="#f00"/><circle cx="527.7" cy="22.6" r="1.2" fill="#1c7c8c"/><circle cx="527.7" cy="33.9" r="1.2" fill="#b8375a"/><g font-family="Liberation Serif, serif" font-size="9.6" fill="#111"><text x="536.2" y="14.1">Pressure monitoring points</text><text x="536.2" y="25.8">Other Drop Points</text><text x="536.2" y="37.1">The Shortest Path Drop Points</text></g><path d="M426.5 7.5h2.4M659 7.5h-2.4M426.5 40.2h2.4M659 40.2h-2.4M426.5 72.9h2.4M659 72.9h-2.4M426.5 105.6h2.4M659 105.6h-2.4M426.5 138.3h2.4M659 138.3h-2.4M426.5 171h2.4M659 171h-2.4M542.8 187v-2.4M542.8 0.5v2.4" stroke="#999" stroke-width="0.7" fill="none"/><rect x="426.5" y="0.5" width="232.5" height="186.5" fill="none" stroke="#a4a4a4" stroke-width="1.1"/><g font-family="Liberation Serif, serif" font-size="11.3" fill="#1c1c1c"><text x="422.3" y="11.7" text-anchor="end">39.16</text><text x="422.3" y="44.4" text-anchor="end">39.14</text><text x="422.3" y="77.1" text-anchor="end">39.12</text><text x="422.3" y="109.8" text-anchor="end">39.1</text><text x="422.3" y="142.5" text-anchor="end">39.08</text><text x="422.3" y="175.2" text-anchor="end">39.06</text><text x="426.5" y="200.7" text-anchor="middle">117.13</text><text x="542.8" y="200.7" text-anchor="middle">117.20</text><text x="659" y="200.7" text-anchor="middle">117.27</text><text x="542.6" y="216.3" text-anchor="middle" font-size="11.4">Longitude/°E</text><text transform="translate(392.2 94) rotate(-90)" text-anchor="middle" font-size="11.4">Latitude/°N</text></g><text x="354.5" y="218.3" font-family="Liberation Serif, serif" font-size="18.3" fill="#111">(b)</text></g><g><path d="M71.5 262.5H304M71.5 295.2H304M71.5 327.9H304M71.5 360.6H304M71.5 393.3H304M71.5 426H304M187.8 255.5V442" stroke="#efefef" stroke-width="0.8" fill="none"/><g clip-path="url(#clipc)"><use href="#net" x="0" y="255"/><path d="M184.4 332.4 184.4 341.7 186.7 350.4 196 344 205.4 340.6 214.8 338.2 224.1 337 230 341.7 235.8 351 240.5 360.4 242.8 372.1 242.8 393.1M196.5 324.2 203 332.4 212.4 334.7 224.1 337M196 344 197.2 355.7 203.6 358 203.6 364.6M203.6 358 212.4 356.9 214.8 351 221.8 349.9 230 341.7M260.8 345.9 252.1 351.1 245.1 356.9 240.5 360.4M171.1 310.2 172.7 318.4 176.7 326.5M172.7 318.4 182 320.7 189 324.2 196.5 324.2M199.1 310.9 203 316 208.5 313.2 210 318.4M203 316 196.5 324.2M184.4 332.4 186.7 325.4 191.4 318.4 198.4 317.2 210 318.4 221.8 327.7 233.5 333.6 240.5 341.7 249.8 353.4 257.4 360 260.7 364 263.4 373.1 268.6 379.7 275.2 383.7 283 387.6 286.6 382.6M203.6 364.6 204.3 375.6 209 376.8 209 385 221.8 385.6 229.2 387 229.9 391.5 242.3 392.2M243 388.2 264.7 388.6 265.3 391.5 273.9 392.8 275.8 395.5 273.9 402 273.2 409.9 270.6 416.5 268.6 420.4 270.6 428.3 279.4 428.7" fill="none" stroke="#6fc8a0" stroke-width="1.4" stroke-linejoin="round"/><path d="M184.4 332.4 184.4 341.7 186.7 350.4 196 344 205.4 340.6 214.8 338.2 224.1 337 230 341.7 235.8 351 240.5 360.4 242.8 372.1 242.8 393.1M196.5 324.2 203 332.4 212.4 334.7 224.1 337M196 344 197.2 355.7 203.6 358 203.6 364.6M203.6 358 212.4 356.9 214.8 351 221.8 349.9 230 341.7M260.8 345.9 252.1 351.1 245.1 356.9 240.5 360.4M171.1 310.2 172.7 318.4 176.7 326.5M172.7 318.4 182 320.7 189 324.2 196.5 324.2M199.1 310.9 203 316 208.5 313.2 210 318.4M203 316 196.5 324.2M203.6 364.6 204.3 375.6 209 376.8 209 385 221.8 385.6 229.2 387 229.9 391.5 242.3 392.2M243 388.2 264.7 388.6 265.3 391.5 273.9 392.8 275.8 395.5 273.9 402 273.2 409.9 270.6 416.5 268.6 420.4 270.6 428.3 279.4 428.7" fill="none" stroke="#b8375a" stroke-width="1.8" stroke-dasharray="2.4 3.4" stroke-linejoin="round"/><path d="M184.4 332.4 186.7 325.4 191.4 318.4 198.4 317.2 210 318.4 221.8 327.7 233.5 333.6 240.5 341.7 249.8 353.4 257.4 360 260.7 364 263.4 373.1 268.6 379.7 275.2 383.7 283 387.6 286.6 382.6" fill="none" stroke="#b8375a" stroke-width="1.8" stroke-dasharray="2.1 6" stroke-linejoin="round"/></g><rect x="171.2" y="299.1" width="24.1" height="8.6" fill="#fff" fill-opacity="0.85"/><rect x="200" y="299.5" width="24.1" height="8.6" fill="#fff" fill-opacity="0.85"/><rect x="214" y="309.6" width="19.4" height="8.6" fill="#fff" fill-opacity="0.85"/><rect x="200" y="319.4" width="24.1" height="8.6" fill="#fff" fill-opacity="0.85"/><rect x="158.4" y="329.4" width="24.1" height="8.6" fill="#fff" fill-opacity="0.85"/><rect x="159.6" y="346.3" width="24.1" height="8.6" fill="#fff" fill-opacity="0.85"/><rect x="176.6" y="368.4" width="24.1" height="8.6" fill="#fff" fill-opacity="0.85"/><rect x="261.7" y="331.8" width="19.4" height="8.6" fill="#fff" fill-opacity="0.85"/><rect x="282.1" y="367.9" width="19.4" height="8.6" fill="#fff" fill-opacity="0.85"/><rect x="276.2" y="429.7" width="24.1" height="8.6" fill="#fff" fill-opacity="0.85"/><g font-family="Liberation Serif, serif" font-size="9.4" fill="#111"><text x="171.5" y="306.7">11272</text><text x="200.3" y="307.1">19706</text><text x="214.3" y="317.2">3441</text><text x="200.3" y="327">19687</text><text x="158.7" y="337">21053</text><text x="159.9" y="353.9">16741</text><text x="176.9" y="376">18276</text><text x="262" y="339.4">9614</text><text x="282.4" y="375.5">3871</text><text x="276.5" y="437.3">17174</text></g><circle cx="171.1" cy="310.2" r="2.4" fill="#f00"/><circle cx="199.1" cy="310.9" r="2.4" fill="#f00"/><circle cx="208.5" cy="313.2" r="2.4" fill="#f00"/><circle cx="196.5" cy="324.2" r="2.4" fill="#f00"/><circle cx="176.7" cy="326.5" r="2.4" fill="#f00"/><circle cx="186.7" cy="350.4" r="2.4" fill="#f00"/><circle cx="203.6" cy="364.6" r="2.4" fill="#f00"/><circle cx="260.8" cy="345.9" r="2.4" fill="#f00"/><circle cx="286.6" cy="382.6" r="2.4" fill="#f00"/><circle cx="279.4" cy="428.7" r="2.4" fill="#f00"/><rect x="164.8" y="259.4" width="134.2" height="35" fill="#fff" stroke="#555" stroke-width="0.7"/><circle cx="172.7" cy="265.9" r="2.3" fill="#f00"/><circle cx="172.7" cy="277.6" r="1.2" fill="#1c7c8c"/><circle cx="172.7" cy="288.9" r="1.2" fill="#b8375a"/><g font-family="Liberation Serif, serif" font-size="9.6" fill="#111"><text x="181.2" y="269.1">Pressure monitoring points</text><text x="181.2" y="280.8">Other Drop Points</text><text x="181.2" y="292.1">The Shortest Path Drop Points</text></g><path d="M71.5 262.5h2.4M304 262.5h-2.4M71.5 295.2h2.4M304 295.2h-2.4M71.5 327.9h2.4M304 327.9h-2.4M71.5 360.6h2.4M304 360.6h-2.4M71.5 393.3h2.4M304 393.3h-2.4M71.5 426h2.4M304 426h-2.4M187.8 442v-2.4M187.8 255.5v2.4" stroke="#999" stroke-width="0.7" fill="none"/><rect x="71.5" y="255.5" width="232.5" height="186.5" fill="none" stroke="#a4a4a4" stroke-width="1.1"/><g font-family="Liberation Serif, serif" font-size="11.3" fill="#1c1c1c"><text x="67.3" y="266.7" text-anchor="end">39.16</text><text x="67.3" y="299.4" text-anchor="end">39.14</text><text x="67.3" y="332.1" text-anchor="end">39.12</text><text x="67.3" y="364.8" text-anchor="end">39.1</text><text x="67.3" y="397.5" text-anchor="end">39.08</text><text x="67.3" y="430.2" text-anchor="end">39.06</text><text x="71.5" y="455.7" text-anchor="middle">117.13</text><text x="187.8" y="455.7" text-anchor="middle">117.20</text><text x="304" y="455.7" text-anchor="middle">117.27</text><text x="187.6" y="471.3" text-anchor="middle" font-size="11.4">Longitude/°E</text><text transform="translate(37.2 349) rotate(-90)" text-anchor="middle" font-size="11.4">Latitude/°N</text></g><text x="0.5" y="473.3" font-family="Liberation Serif, serif" font-size="18.3" fill="#111">(c)</text></g><g><path d="M426.5 262.5H659M426.5 295.2H659M426.5 327.9H659M426.5 360.6H659M426.5 393.3H659M426.5 426H659M542.8 255.5V442" stroke="#efefef" stroke-width="0.8" fill="none"/><g clip-path="url(#clipd)"><use href="#net" x="355" y="255"/><path d="M491.4 274.3 497.2 279 499.5 286 505.4 287.2 506.5 300 504.7 301.9M506.5 287.2 518.2 287.2 518.2 300 506.5 300M518.2 300 522.9 301.2 525.9 309.4 533.4 311.7 542.8 319.9 550.9 323.4M522.9 301.2 534.6 300 535.7 293M550.9 323.4 552 313 558.4 302.4 567.3 307.1 573.1 314.1 580.1 321.1 587.1 318.7 591.8 324.6M580.1 321.1 591.8 333.9 601.2 346.8 610.5 358.5 615.7 361.8 617.6 370.4 622.3 378.9 629.9 383.7 638.4 386.5 641.6 382.6M615.2 345.6 605.8 351.4 598.8 358.5 594.2 363.1M550.9 323.4 545 328.1 540.4 335.1 540.4 344.4 541.6 349.6 549.8 344.4 559.1 339.8 568.5 337.4 580.1 335.1 587.1 342.1 591.8 351.4 594.2 363.1 597 373 596.7 391.6M550.9 323.4 559.1 330.4 568.5 332.8 580.1 335.1M549.8 344.4 551 356.1 558.4 359.6 558.4 364.8 558.7 375.1M558.4 359.6 568.5 358.5 570.8 351.4 577.8 349.1 587.1 342.1M558.4 364.8 564.5 366.6 563.5 385.5 575.8 385.5 584.3 385.5 584.7 391.2 596.7 391.6" fill="none" stroke="#6fc8a0" stroke-width="1.4" stroke-linejoin="round"/><path d="M491.4 274.3 497.2 279 499.5 286 505.4 287.2 506.5 300 504.7 301.9M506.5 287.2 518.2 287.2 518.2 300 506.5 300M518.2 300 522.9 301.2 525.9 309.4 533.4 311.7 542.8 319.9 550.9 323.4M522.9 301.2 534.6 300 535.7 293M550.9 323.4 552 313 558.4 302.4 567.3 307.1 573.1 314.1 580.1 321.1 587.1 318.7 591.8 324.6M615.2 345.6 605.8 351.4 598.8 358.5 594.2 363.1M550.9 323.4 545 328.1 540.4 335.1 540.4 344.4 541.6 349.6 549.8 344.4 559.1 339.8 568.5 337.4 580.1 335.1 587.1 342.1 591.8 351.4 594.2 363.1 597 373 596.7 391.6M550.9 323.4 559.1 330.4 568.5 332.8 580.1 335.1M549.8 344.4 551 356.1 558.4 359.6 558.4 364.8 558.7 375.1M558.4 359.6 568.5 358.5 570.8 351.4 577.8 349.1 587.1 342.1M558.4 364.8 564.5 366.6 563.5 385.5 575.8 385.5 584.3 385.5 584.7 391.2 596.7 391.6" fill="none" stroke="#b8375a" stroke-width="1.8" stroke-dasharray="2.4 3.4" stroke-linejoin="round"/><path d="M580.1 321.1 591.8 333.9 601.2 346.8 610.5 358.5 615.7 361.8 617.6 370.4 622.3 378.9 629.9 383.7 638.4 386.5 641.6 382.6" fill="none" stroke="#b8375a" stroke-width="1.8" stroke-dasharray="2.1 6" stroke-linejoin="round"/></g><rect x="481.2" y="259.7" width="19.4" height="8.6" fill="#fff" fill-opacity="0.85"/><rect x="485.2" y="303" width="24.1" height="8.6" fill="#fff" fill-opacity="0.85"/><rect x="502.7" y="314.6" width="24.1" height="8.6" fill="#fff" fill-opacity="0.85"/><rect x="563" y="293.6" width="24.1" height="8.6" fill="#fff" fill-opacity="0.85"/><rect x="555.3" y="314.6" width="24.1" height="8.6" fill="#fff" fill-opacity="0.85"/><rect x="515.6" y="343.8" width="24.1" height="8.6" fill="#fff" fill-opacity="0.85"/><rect x="530.7" y="366.5" width="24.1" height="8.6" fill="#fff" fill-opacity="0.85"/><rect x="564.7" y="355.5" width="24.1" height="8.6" fill="#fff" fill-opacity="0.85"/><rect x="616.7" y="334.5" width="19.4" height="8.6" fill="#fff" fill-opacity="0.85"/><rect x="637.1" y="367.9" width="19.4" height="8.6" fill="#fff" fill-opacity="0.85"/><g font-family="Liberation Serif, serif" font-size="9.4" fill="#111"><text x="481.5" y="267.3">9687</text><text x="485.5" y="310.6">22437</text><text x="503" y="322.2">11272</text><text x="563.3" y="301.2">23638</text><text x="555.6" y="322.2">19687</text><text x="515.9" y="351.4">16741</text><text x="531" y="374.1">18276</text><text x="565" y="363.1">13944</text><text x="617" y="342.1">9614</text><text x="637.4" y="375.5">3871</text></g><circle cx="491.4" cy="274.3" r="2.4" fill="#f00"/><circle cx="504.7" cy="301.9" r="2.4" fill="#f00"/><circle cx="525.9" cy="309.4" r="2.4" fill="#f00"/><circle cx="558.4" cy="302.4" r="2.4" fill="#f00"/><circle cx="550.9" cy="323.4" r="2.4" fill="#f00"/><circle cx="541.6" cy="349.6" r="2.4" fill="#f00"/><circle cx="558.4" cy="364.8" r="2.4" fill="#f00"/><circle cx="564.5" cy="366.6" r="2.4" fill="#f00"/><circle cx="615.2" cy="345.6" r="2.4" fill="#f00"/><circle cx="641.6" cy="382.6" r="2.4" fill="#f00"/><rect x="519.8" y="259.4" width="134.2" height="35" fill="#fff" stroke="#555" stroke-width="0.7"/><circle cx="527.7" cy="265.9" r="2.3" fill="#f00"/><circle cx="527.7" cy="277.6" r="1.2" fill="#1c7c8c"/><circle cx="527.7" cy="288.9" r="1.2" fill="#b8375a"/><g font-family="Liberation Serif, serif" font-size="9.6" fill="#111"><text x="536.2" y="269.1">Pressure monitoring points</text><text x="536.2" y="280.8">Other Drop Points</text><text x="536.2" y="292.1">The Shortest Path Drop Points</text></g><path d="M426.5 262.5h2.4M659 262.5h-2.4M426.5 295.2h2.4M659 295.2h-2.4M426.5 327.9h2.4M659 327.9h-2.4M426.5 360.6h2.4M659 360.6h-2.4M426.5 393.3h2.4M659 393.3h-2.4M426.5 426h2.4M659 426h-2.4M542.8 442v-2.4M542.8 255.5v2.4" stroke="#999" stroke-width="0.7" fill="none"/><rect x="426.5" y="255.5" width="232.5" height="186.5" fill="none" stroke="#a4a4a4" stroke-width="1.1"/><g font-family="Liberation Serif, serif" font-size="11.3" fill="#1c1c1c"><text x="422.3" y="266.7" text-anchor="end">39.16</text><text x="422.3" y="299.4" text-anchor="end">39.14</text><text x="422.3" y="332.1" text-anchor="end">39.12</text><text x="422.3" y="364.8" text-anchor="end">39.1</text><text x="422.3" y="397.5" text-anchor="end">39.08</text><text x="422.3" y="430.2" text-anchor="end">39.06</text><text x="426.5" y="455.7" text-anchor="middle">117.13</text><text x="542.8" y="455.7" text-anchor="middle">117.20</text><text x="659" y="455.7" text-anchor="middle">117.27</text><text x="542.6" y="471.3" text-anchor="middle" font-size="11.4">Longitude/°E</text><text transform="translate(392.2 349) rotate(-90)" text-anchor="middle" font-size="11.4">Latitude/°N</text></g><text x="354.5" y="473.3" font-family="Liberation Serif, serif" font-size="18.3" fill="#111">(d)</text></g><g><path d="M71.5 502.8H304M71.5 535.5H304M71.5 568.2H304M71.5 600.9H304M71.5 633.6H304M71.5 666.3H304M187.8 495.8V682.3" stroke="#efefef" stroke-width="0.8" fill="none"/><g clip-path="url(#clipe)"><use href="#net" x="0" y="495.3"/><path d="M184.4 572.7 184.4 582 186.7 590.7 196 584.3 205.4 580.9 214.8 578.5 224.1 577.3 230 582 235.8 591.3 240.5 600.7 242.8 612.4 242.8 633.4M196.5 564.5 203 572.7 212.4 575 224.1 577.3M196 584.3 197.2 596 203.6 598.3 203.6 604.9M203.6 598.3 212.4 597.2 214.8 591.3 221.8 590.2 230 582M260.8 586.2 252.1 591.4 245.1 597.2 240.5 600.7M92.2 520.7 98 522.3 105 526.5 109 523.6 120 524.8 135 525.3 150 525.3 163.5 525.3 168 537.3 171 550.5M90.6 538.9 120 539.1 126 545.3 135 549.8 150 551.3 160 551.3 171 550.5M92.2 520.7 92.2 567.3 88 574.3 84 579.3 79.3 580 81.2 594 81.7 605.7 83.6 617.4 84 627.9 91 634.9 100.4 638.4 109.7 634.9 120.2 633.7 140.1 634.2 158.8 635.6 170.5 633.7 179.8 629.1 184.5 627.9 189.2 631.4 193.8 632.6 203.2 627.9 207.9 623.2 207.9 610.4 203.7 605.6M115.1 629.8 120.2 633.7M171 550.5 178.7 552.7 188 557.3 196.5 564.5M171 550.5 170.5 557.3 176.4 560.9 185.7 563.3 196.5 564.5M213.3 561.6 206.7 557.3 197.4 555.1 188 557.3M184.4 572.7 190 567.3 196.5 564.5M213.3 561.6 220.7 569.1 227.8 573.7 237.1 576.1 248.8 590.1 258.1 600.6 262.8 611.1 269.8 620.5 279.2 626.3 286.6 622.8M203.7 605.6 204.3 615.9 209 617.1 209 625.3 221.8 625.9 229.2 627.3 229.9 631.8 242.3 632.5" fill="none" stroke="#6fc8a0" stroke-width="1.4" stroke-linejoin="round"/><path d="M184.4 572.7 184.4 582 186.7 590.7 196 584.3 205.4 580.9 214.8 578.5 224.1 577.3 230 582 235.8 591.3 240.5 600.7 242.8 612.4 242.8 633.4M196.5 564.5 203 572.7 212.4 575 224.1 577.3M196 584.3 197.2 596 203.6 598.3 203.6 604.9M203.6 598.3 212.4 597.2 214.8 591.3 221.8 590.2 230 582M260.8 586.2 252.1 591.4 245.1 597.2 240.5 600.7M115.1 629.8 120.2 633.7M171 550.5 178.7 552.7 188 557.3 196.5 564.5M171 550.5 170.5 557.3 176.4 560.9 185.7 563.3 196.5 564.5M213.3 561.6 206.7 557.3 197.4 555.1 188 557.3M184.4 572.7 190 567.3 196.5 564.5M203.7 605.6 204.3 615.9 209 617.1 209 625.3 221.8 625.9 229.2 627.3 229.9 631.8 242.3 632.5" fill="none" stroke="#b8375a" stroke-width="1.8" stroke-dasharray="2.4 3.4" stroke-linejoin="round"/><path d="M92.2 520.7 98 522.3 105 526.5 109 523.6 120 524.8 135 525.3 150 525.3 163.5 525.3 168 537.3 171 550.5M90.6 538.9 120 539.1 126 545.3 135 549.8 150 551.3 160 551.3 171 550.5M92.2 520.7 92.2 567.3 88 574.3 84 579.3 79.3 580 81.2 594 81.7 605.7 83.6 617.4 84 627.9 91 634.9 100.4 638.4 109.7 634.9 120.2 633.7 140.1 634.2 158.8 635.6 170.5 633.7 179.8 629.1 184.5 627.9 189.2 631.4 193.8 632.6 203.2 627.9 207.9 623.2 207.9 610.4 203.7 605.6M213.3 561.6 220.7 569.1 227.8 573.7 237.1 576.1 248.8 590.1 258.1 600.6 262.8 611.1 269.8 620.5 279.2 626.3 286.6 622.8" fill="none" stroke="#b8375a" stroke-width="1.8" stroke-dasharray="2.1 6" stroke-linejoin="round"/></g><rect x="98.9" y="529" width="19.4" height="8.6" fill="#fff" fill-opacity="0.85"/><rect x="94.2" y="541.1" width="24.1" height="8.6" fill="#fff" fill-opacity="0.85"/><rect x="174" y="538.9" width="24.1" height="8.6" fill="#fff" fill-opacity="0.85"/><rect x="171.9" y="565.3" width="24.1" height="8.6" fill="#fff" fill-opacity="0.85"/><rect x="216" y="552.5" width="19.4" height="8.6" fill="#fff" fill-opacity="0.85"/><rect x="160.7" y="583.8" width="24.1" height="8.6" fill="#fff" fill-opacity="0.85"/><rect x="209.9" y="602.2" width="24.1" height="8.6" fill="#fff" fill-opacity="0.85"/><rect x="259.7" y="575.5" width="19.4" height="8.6" fill="#fff" fill-opacity="0.85"/><rect x="281.2" y="609.2" width="19.4" height="8.6" fill="#fff" fill-opacity="0.85"/><rect x="107.1" y="616.3" width="24.1" height="8.6" fill="#fff" fill-opacity="0.85"/><g font-family="Liberation Serif, serif" font-size="9.4" fill="#111"><text x="99.2" y="536.6">2283</text><text x="94.5" y="548.7">16897</text><text x="174.3" y="546.5">11272</text><text x="172.2" y="572.9">19687</text><text x="216.3" y="560.1">7027</text><text x="161" y="591.4">16741</text><text x="210.2" y="609.8">18276</text><text x="260" y="583.1">9614</text><text x="281.5" y="616.8">3871</text><text x="107.4" y="623.9">22110</text></g><circle cx="105" cy="526.5" r="2.4" fill="#f00"/><circle cx="90.6" cy="538.9" r="2.4" fill="#f00"/><circle cx="171" cy="550.5" r="2.4" fill="#f00"/><circle cx="196.5" cy="564.5" r="2.4" fill="#f00"/><circle cx="213.3" cy="561.6" r="2.4" fill="#f00"/><circle cx="186.9" cy="590.7" r="2.4" fill="#f00"/><circle cx="203.7" cy="605.6" r="2.4" fill="#f00"/><circle cx="260.9" cy="586.5" r="2.4" fill="#f00"/><circle cx="286.6" cy="622.8" r="2.4" fill="#f00"/><circle cx="115.1" cy="629.8" r="2.4" fill="#f00"/><rect x="164.8" y="499.7" width="134.2" height="35" fill="#fff" stroke="#555" stroke-width="0.7"/><circle cx="172.7" cy="506.2" r="2.3" fill="#f00"/><circle cx="172.7" cy="517.9" r="1.2" fill="#1c7c8c"/><circle cx="172.7" cy="529.2" r="1.2" fill="#b8375a"/><g font-family="Liberation Serif, serif" font-size="9.6" fill="#111"><text x="181.2" y="509.4">Pressure monitoring points</text><text x="181.2" y="521.1">Other Drop Points</text><text x="181.2" y="532.4">The Shortest Path Drop Points</text></g><path d="M71.5 502.8h2.4M304 502.8h-2.4M71.5 535.5h2.4M304 535.5h-2.4M71.5 568.2h2.4M304 568.2h-2.4M71.5 600.9h2.4M304 600.9h-2.4M71.5 633.6h2.4M304 633.6h-2.4M71.5 666.3h2.4M304 666.3h-2.4M187.8 682.3v-2.4M187.8 495.8v2.4" stroke="#999" stroke-width="0.7" fill="none"/><rect x="71.5" y="495.8" width="232.5" height="186.5" fill="none" stroke="#a4a4a4" stroke-width="1.1"/><g font-family="Liberation Serif, serif" font-size="11.3" fill="#1c1c1c"><text x="67.3" y="507" text-anchor="end">39.16</text><text x="67.3" y="539.7" text-anchor="end">39.14</text><text x="67.3" y="572.4" text-anchor="end">39.12</text><text x="67.3" y="605.1" text-anchor="end">39.1</text><text x="67.3" y="637.8" text-anchor="end">39.08</text><text x="67.3" y="670.5" text-anchor="end">39.06</text><text x="71.5" y="696" text-anchor="middle">117.13</text><text x="187.8" y="696" text-anchor="middle">117.20</text><text x="304" y="696" text-anchor="middle">117.27</text><text x="187.6" y="711.6" text-anchor="middle" font-size="11.4">Longitude/°E</text><text transform="translate(37.2 589.3) rotate(-90)" text-anchor="middle" font-size="11.4">Latitude/°N</text></g><text x="0.5" y="713.6" font-family="Liberation Serif, serif" font-size="18.3" fill="#111">(e)</text></g><g><path d="M414.9 648.9H655.6M414.9 610.8H655.6M414.9 572.6H655.6M414.9 534.5H655.6M460 496.4V687M497.6 496.4V687M535.2 496.4V687M572.8 496.4V687M610.4 496.4V687" stroke="#e4e4e4" stroke-width="0.7" fill="none"/><rect x="444.9" y="665.7" width="30.2" height="21.3" fill="#669bbc" stroke="#4f83a3" stroke-width="0.5"/><rect x="482.5" y="644.3" width="30.2" height="42.7" fill="#669bbc" stroke="#4f83a3" stroke-width="0.5"/><rect x="520.1" y="619.3" width="30.2" height="67.7" fill="#669bbc" stroke="#4f83a3" stroke-width="0.5"/><rect x="557.7" y="542.3" width="30.2" height="144.7" fill="#669bbc" stroke="#4f83a3" stroke-width="0.5"/><rect x="595.3" y="512.4" width="30.2" height="174.6" fill="#669bbc" stroke="#4f83a3" stroke-width="0.5"/><path d="M460 621.4 497.6 620.3 535.2 579.5 572.8 553.2 610.4 532.2" fill="none" stroke="#c1121f" stroke-width="2.1" stroke-linejoin="round"/><path d="M460 616.1l3.8 5.3l-3.8 5.3l-3.8-5.3z" fill="#c1121f"/><path d="M497.6 615l3.8 5.3l-3.8 5.3l-3.8-5.3z" fill="#c1121f"/><path d="M535.2 574.2l3.8 5.3l-3.8 5.3l-3.8-5.3z" fill="#c1121f"/><path d="M572.8 547.9l3.8 5.3l-3.8 5.3l-3.8-5.3z" fill="#c1121f"/><path d="M610.4 526.9l3.8 5.3l-3.8 5.3l-3.8-5.3z" fill="#c1121f"/><path d="M414.9 687h2.4M655.6 687h-2.4M414.9 648.9h2.4M655.6 648.9h-2.4M414.9 610.8h2.4M655.6 610.8h-2.4M414.9 572.6h2.4M655.6 572.6h-2.4M414.9 534.5h2.4M655.6 534.5h-2.4M414.9 496.4h2.4M655.6 496.4h-2.4M460 687v-2.4M460 496.4v2.4M497.6 687v-2.4M497.6 496.4v2.4M535.2 687v-2.4M535.2 496.4v2.4M572.8 687v-2.4M572.8 496.4v2.4M610.4 687v-2.4M610.4 496.4v2.4" stroke="#444" stroke-width="0.7" fill="none"/><rect x="414.9" y="496.4" width="240.7" height="190.6" fill="none" stroke="#6e6e6e" stroke-width="1.1"/><g font-family="Liberation Serif, serif" font-size="11.3" fill="#1c1c1c"><text x="411.4" y="691.3" text-anchor="end">0</text><text x="659.1" y="691.3">0</text><text x="411.4" y="653.2" text-anchor="end">200</text><text x="659.1" y="653.2">5</text><text x="411.4" y="615.1" text-anchor="end">400</text><text x="659.1" y="615.1">10</text><text x="411.4" y="576.9" text-anchor="end">600</text><text x="659.1" y="576.9">15</text><text x="411.4" y="538.8" text-anchor="end">800</text><text x="659.1" y="538.8">20</text><text x="411.4" y="500.7" text-anchor="end">1000</text><text x="659.1" y="500.7">25</text><text x="460" y="701" text-anchor="middle">1</text><text x="497.6" y="701" text-anchor="middle">2</text><text x="535.2" y="701" text-anchor="middle">3</text><text x="572.8" y="701" text-anchor="middle">4</text><text x="610.4" y="701" text-anchor="middle">5</text><text x="535.3" y="716" text-anchor="middle" font-size="13">Scheme Number</text><text transform="translate(384 591.5) rotate(-90)" text-anchor="middle" font-size="11.9">Iteration Times</text><text transform="translate(681.3 589) rotate(-90)" text-anchor="middle" font-size="11.6">Proportion of shortest path drop points(%)</text></g><rect x="418.3" y="500.6" width="131.9" height="35.2" fill="#fff" stroke="#555" stroke-width="0.9"/><rect x="426.2" y="502.5" width="14.5" height="8.3" fill="#669bbc" stroke="#4f83a3" stroke-width="0.5"/><path d="M426 523.8h14.6" stroke="#c1121f" stroke-width="2.1"/><path d="M433.3 518.4l3.6 5.4l-3.6 5.4l-3.6-5.4z" fill="#c1121f"/><g font-family="Liberation Serif, serif" font-size="9.85" fill="#111"><text x="442.2" y="509.8">Iteration Times</text><text x="442.2" y="520.9">Proportion of the shortest</text><text x="442.2" y="531.9">path drop points</text></g><text x="354.5" y="718.3" font-family="Liberation Serif, serif" font-size="18.3" fill="#111">(f)</text></g></svg></body></html>
